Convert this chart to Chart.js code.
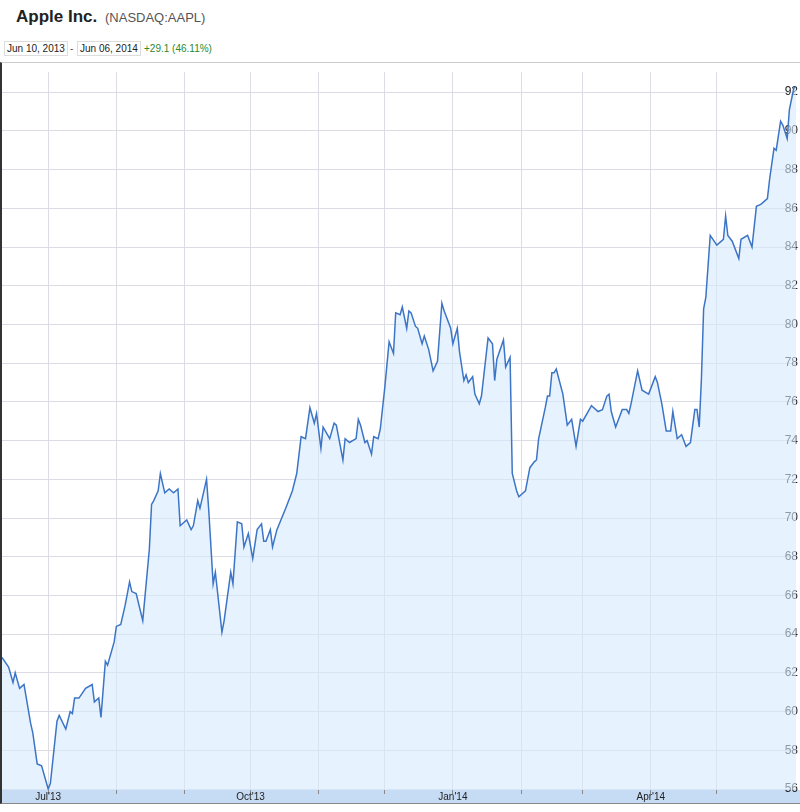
<!DOCTYPE html>
<html>
<head>
<meta charset="utf-8">
<script src="https://cdn.jsdelivr.net/npm/chart.js@4"></script>
<style>
  body { margin: 0; background: #fff; font-family: Arial, "Liberation Sans", sans-serif; }
  #head { position: absolute; left: 0; top: 0; width: 800px; height: 62px; }
  #title { position: absolute; left: 16px; top: 7px; font-size: 17px; font-weight: bold; color: #222; }
  #sym { position: absolute; left: 105px; top: 10px; font-size: 13px; color: #555; }
  .box { position: absolute; top: 41px; font-size: 10px; color: #222; border: 1px solid #ddd; padding: 1px 2px; background: #fff; }
  #chg { position: absolute; left: 144px; top: 43px; font-size: 10px; color: #2a8a2a; }
  #wrap { position: absolute; left: 0; top: 62px; width: 800px; height: 742px; border-left: 2px solid #333; border-top: 1px solid #ccc; border-bottom: 1px solid #888; box-sizing: border-box; }
</style>
</head>
<body>
<div id="head">
  <div id="title">Apple Inc.</div>
  <div id="sym">(NASDAQ:AAPL)</div>
  <div class="box" style="left:4px">Jun 10, 2013</div>
  <div style="position:absolute;left:70px;top:43px;font-size:10px;color:#555">-</div>
  <div class="box" style="left:77px">Jun 06, 2014</div>
  <div id="chg">+29.1 (46.11%)</div>
</div>
<div id="wrap"><canvas id="c"></canvas></div>
<script>
// days since Jun 10, 2013 and closing price
const days = [0,3,5,6,8,10,13,14,16,18,21,22,25,26,29,31,32,33,35,38,41,42,44,45,47,48,51,52,54,56,58,59,61,64,67,68,69,71,72,74,76,78,80,81,84,86,87,89,90,93,94,96,97,100,101,104,105,107,109,110,112,114,116,118,119,120,122,123,125,129,132,134,136,138,140,142,143,145,146,149,151,152,155,156,158,161,162,163,165,166,168,169,171,172,174,176,178,179,181,182,184,185,186,188,189,191,192,194,196,198,200,201,204,205,207,208,210,211,212,214,215,217,218,221,223,224,225,228,229,231,232,234,235,238,240,242,243,244,247,248,249,250,251,252,255,257,259,261,263,264,267,268,271,273,275,276,277,279,280,282,284,285,286,289,291,294,297,298,300,302,304,305,307,309,311,313,315,316,317,318,319,320,322,325,328,329,330,332,335,336,339,341,343,345,348,349,351,352,354,355,357,358,360,361];
const prices = [62.8,62.3,61.5,62.0,61.2,61.4,59.4,58.9,57.3,57.2,56.0,56.3,59.5,59.8,59.1,60.0,59.9,60.7,60.7,61.2,61.4,60.5,60.7,59.7,62.6,62.4,63.6,64.4,64.5,65.5,66.7,66.2,66.1,64.7,68.4,70.7,70.9,71.4,72.3,71.3,71.5,71.3,71.5,69.6,69.9,69.4,69.6,70.9,70.5,72.0,70.4,66.6,67.2,64.1,64.7,67.2,66.6,69.8,69.7,68.5,69.2,67.9,69.4,69.7,68.8,68.8,69.4,68.5,69.4,70.5,71.4,72.3,74.2,74.1,75.7,74.9,75.4,73.6,74.7,74.1,74.9,74.8,73.0,74.1,73.9,74.1,75.1,74.8,73.9,74.0,73.3,74.2,74.1,74.6,76.7,79.1,78.5,80.6,80.5,80.9,79.8,80.7,80.6,79.9,79.8,79.0,79.4,78.7,77.6,78.1,81.1,80.7,79.8,79.0,79.8,78.6,77.1,77.4,77.0,77.3,76.4,75.9,76.3,79.3,79.0,77.1,78.2,79.2,77.8,78.3,72.3,71.4,71.1,71.4,72.6,72.9,73.0,74.1,75.7,76.3,76.3,77.5,77.5,77.7,76.4,74.8,75.1,73.7,75.1,75.0,75.6,75.8,75.5,75.6,76.3,76.4,75.5,74.7,75.0,75.6,75.6,75.4,75.9,77.6,76.6,76.4,77.3,77.0,75.9,74.5,74.5,75.5,74.1,74.3,73.7,73.9,75.6,75.6,74.7,77.2,80.8,81.4,84.6,84.1,84.4,85.6,84.6,84.3,83.4,84.4,84.6,84.0,86.1,86.2,86.5,87.5,89.1,89.0,90.5,90.3,89.6,91.1,92.2,92.3];
const monthDays = [21,52,83,113,144,174,205,236,264,295,325];
const monthLabels = ["Jul'13","","","Oct'13","","","Jan'14","","","Apr'14",""];
const yTicks = [56,58,60,62,64,66,68,70,72,74,76,78,80,82,84,86,88,90,92];

const axisBand = {
  id: "axisBand",
  beforeDraw(chart) {
    const { ctx, chartArea } = chart;
    ctx.save();
    ctx.fillStyle = "#c6dbf4";
    ctx.fillRect(0, chartArea.bottom, chart.width, chart.height - chartArea.bottom);
    ctx.restore();
  }
};

const canvas = document.getElementById("c");
canvas.width = 798;
canvas.height = 740;

new Chart(canvas.getContext("2d"), {
  type: "line",
  data: {
    datasets: [{
      data: days.map((d, i) => ({ x: d, y: prices[i] })),
      borderColor: "#3d75c6",
      borderWidth: 1.5,
      backgroundColor: "rgba(214,234,251,0.6)",
      fill: "start",
      pointRadius: 0,
      tension: 0
    }]
  },
  options: {
    responsive: false,
    animation: false,
    layout: { padding: 0 },
    plugins: { legend: { display: false }, tooltip: { enabled: false } },
    scales: {
      x: {
        type: "linear",
        min: 0,
        max: 361,
        afterBuildTicks: (axis) => { axis.ticks = monthDays.map(v => ({ value: v })); },
        afterFit: (axis) => { axis.height = 13; },
        ticks: {
          callback: (v, i) => monthLabels[i],
          autoSkip: false,
          maxRotation: 0,
          padding: -3,
          font: { size: 10, family: "Arial" },
          color: "#222"
        },
        grid: { color: "#dcdce4", tickLength: 4, tickColor: "#888" },
        border: { display: false }
      },
      y: {
        position: "right",
        min: 55.95,
        max: 93.03,
        afterBuildTicks: (axis) => { axis.ticks = yTicks.map(v => ({ value: v })); },
        ticks: {
          mirror: true,
          padding: 2,
          font: { size: 12, family: "Arial" },
          color: "#222"
        },
        grid: { color: "#dcdce4", drawTicks: false },
        border: { display: false }
      }
    }
  },
  plugins: [axisBand]
});
</script>
</body>
</html>
